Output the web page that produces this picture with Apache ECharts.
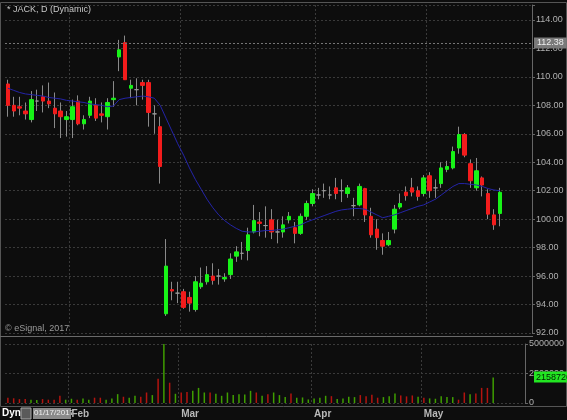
<!DOCTYPE html>
<html>
<head>
<meta charset="utf-8">
<script src="https://cdn.jsdelivr.net/npm/echarts@6/dist/echarts.min.js"></script>
<style>
html, body { margin: 0; padding: 0; background: #0d0d0d; }
#main { width: 567px; height: 420px; }
</style>
</head>
<body>
<div id="main"></div>
<script>
// daily bars JACK, 01/17/2017 .. 05/17/2017
var opens = [109.5, 108.0, 107.9, 107.6, 107.0, 108.3, 108.6, 108.3, 107.8, 107.6,
    107.0, 107.0, 108.3, 106.7, 107.3, 108.0, 107.4, 107.2, 108.4, 111.4,
    112.4, 109.2, 109.1, 109.6, 109.6, 107.4, 106.5, 93.35, 95.05, 94.8,
    94.9, 94.5, 93.65, 95.25, 95.6, 96.0, 96.0, 95.8, 96.1, 97.4,
    97.6, 97.8, 99.1, 99.8, 99.55, 99.95, 99.1, 99.1, 99.95, 99.4,
    99.0, 100.2, 101.1, 101.7, 102.0, 101.7, 102.2, 102.0, 101.8, 100.95,
    101.0, 102.15, 100.2, 99.3, 98.5, 98.2, 99.3, 100.85, 101.9, 102.2,
    102.0, 101.8, 103.05, 102.2, 102.5, 103.5, 103.6, 105.0, 105.95, 103.9,
    102.2, 102.9, 101.8, 100.3, 100.4];
var closes = [108.0, 107.6, 107.8, 107.4, 108.4, 108.3, 108.3, 108.1, 107.4, 107.2,
    107.2, 107.9, 106.7, 107.0, 108.3, 107.1, 107.3, 108.2, 108.5, 111.9,
    109.8, 109.4, 109.1, 109.4, 107.5, 107.4, 103.7, 96.7, 94.95, 94.8,
    93.8, 94.1, 95.6, 95.5, 96.1, 95.7, 96.0, 95.9, 97.2, 97.7,
    97.6, 98.9, 99.9, 99.7, 99.55, 99.1, 99.1, 99.6, 100.2, 99.0,
    100.2, 101.1, 101.8, 101.7, 102.0, 101.7, 101.8, 102.0, 102.2, 100.95,
    102.3, 100.3, 98.9, 98.7, 98.1, 98.5, 100.7, 101.1, 101.65, 101.9,
    101.6, 102.9, 102.0, 102.2, 103.6, 103.7, 104.75, 105.95, 104.5, 102.7,
    103.4, 102.4, 100.35, 99.6, 101.89];
var lows = [107.2, 107.2, 107.3, 107.0, 106.8, 107.6, 107.5, 107.8, 106.4, 105.7,
    105.8, 105.7, 106.6, 106.3, 107.1, 106.9, 106.8, 106.3, 107.9, 110.4,
    109.8, 108.5, 108.0, 108.4, 106.5, 106.0, 102.5, 93.2, 94.3, 94.1,
    93.7, 93.5, 93.5, 95.1, 95.4, 95.4, 95.4, 95.6, 95.8, 97.0,
    97.15, 97.1, 99.0, 98.8, 98.7, 98.6, 98.3, 98.7, 99.7, 98.3,
    98.9, 99.95, 100.9, 101.4, 101.5, 101.4, 101.4, 101.2, 101.5, 100.2,
    100.9, 99.8, 98.7, 97.85, 97.5, 98.1, 99.0, 100.7, 101.3, 101.6,
    101.3, 101.6, 101.5, 101.5, 102.2, 103.3, 103.5, 104.6, 104.35, 102.2,
    102.0, 101.6, 100.0, 99.25, 99.5];
var highs = [109.8, 108.6, 108.6, 108.2, 109.0, 109.1, 109.4, 109.6, 108.9, 108.2,
    107.6, 108.4, 108.7, 107.3, 108.6, 108.5, 108.2, 108.5, 109.7, 112.6,
    112.9, 109.8, 109.9, 109.8, 109.8, 108.0, 107.2, 98.6, 95.6, 95.6,
    95.1, 94.9, 96.0, 96.6, 96.7, 96.9, 96.5, 96.2, 97.6, 98.1,
    98.4, 99.4, 101.0, 100.5, 100.9, 100.7, 99.96, 100.2, 100.5, 99.8,
    100.4, 101.3, 102.1, 102.2, 102.5, 102.3, 102.9, 102.8, 102.4, 101.5,
    102.5, 102.2, 100.8, 100.0, 99.0, 99.1, 101.0, 101.8, 102.3, 102.9,
    102.3, 103.1, 103.3, 102.8, 104.0, 104.1, 105.1, 106.5, 106.05, 104.2,
    104.3, 103.0, 102.1, 100.7, 102.2];
var volumes = [450000, 400000, 330000, 330000, 280000, 250000, 330000, 280000, 280000, 610000,
    280000, 360000, 280000, 390000, 280000, 450000, 450000, 280000, 390000, 750000,
    530000, 450000, 610000, 530000, 890000, 670000, 2060000, 5000000, 1720000, 780000,
    890000, 940000, 1030000, 1280000, 890000, 890000, 780000, 610000, 890000, 670000,
    750000, 720000, 1030000, 890000, 610000, 750000, 890000, 670000, 500000, 800000,
    450000, 470000, 300000, 390000, 450000, 610000, 580000, 330000, 390000, 530000,
    500000, 670000, 580000, 700000, 450000, 500000, 580000, 800000, 640000, 560000,
    640000, 530000, 450000, 390000, 360000, 580000, 500000, 500000, 280000, 890000,
    750000, 800000, 1280000, 1280000, 2158726];
// moving average line as drawn on the chart
var avgLine = [109.2, 109.05, 108.9, 108.8, 108.75, 108.7, 108.65, 108.55, 108.5, 108.45,
    108.35, 108.3, 108.25, 108.2, 108.1, 108.05, 108.0, 107.9, 107.95, 108.4,
    108.5, 108.55, 108.6, 108.65, 108.6, 108.5, 108.0, 107.1, 106.2, 105.3,
    104.5, 103.6, 102.8, 102.1, 101.4, 100.8, 100.3, 99.9, 99.6, 99.35,
    99.15, 99.1, 99.1, 99.15, 99.2, 99.2, 99.25, 99.3, 99.4, 99.5,
    99.6, 99.8, 99.95, 100.1, 100.25, 100.4, 100.55, 100.65, 100.7, 100.75,
    100.75, 100.7, 100.5, 100.3, 100.1, 100.2, 100.3, 100.45, 100.6, 100.75,
    100.9, 101.0, 101.2, 101.4, 101.7, 102.0, 102.3, 102.5, 102.5, 102.45,
    102.4, 102.3, 102.15, 102.05, 102.0];
var priceTicks = [92, 114, 2];
var volTicks = [0, 5000000, 2500000];
var sessionHigh = 112.38;
var holidays = ['2017-02-20', '2017-04-14'];
var monthNames = ['Jan', 'Feb', 'Mar', 'Apr', 'May'];

// trading days
var dates = [];
var d = new Date(2017, 0, 17);
while (dates.length < closes.length) {
    var wd = d.getDay();
    var key = d.getFullYear() + '-' + ('0' + (d.getMonth() + 1)).slice(-2) + '-' + ('0' + d.getDate()).slice(-2);
    if (wd != 0 && wd != 6 && holidays.indexOf(key) < 0) {
        dates.push({m: d.getMonth(), day: d.getDate(), key: key});
    }
    d.setDate(d.getDate() + 1);
}
var cats = [];
var monthStart = {};
for (var i = 0; i < dates.length; i++) {
    cats.push(dates[i].key);
    if (i > 0 && dates[i].m != dates[i - 1].m) monthStart[i] = monthNames[dates[i].m];
}
// empty room on the right
for (var k = 0; k < 5; k++) cats.push('pad' + k);

var UP = '#17f317', DOWN = '#f31c1c', FLAT = '#9a9a9a';
var wicks = [], bodies = [], vols = [];
for (var i = 0; i < closes.length; i++) {
    var o = opens[i], c = closes[i];
    wicks.push([o, c, lows[i], highs[i]]);
    var col = c > o ? UP : (c < o ? DOWN : FLAT);
    bodies.push({
        value: [o, c, Math.min(o, c), Math.max(o, c)],
        itemStyle: {color: col, color0: col, borderColor: col, borderColor0: col}
    });
    vols.push({value: volumes[i], itemStyle: {color: c >= o ? '#3f9e00' : '#b3140f'}});
}

var axisText = {color: '#b0b0b0', fontSize: 9, fontFamily: 'Liberation Sans'};
var gridDash = {color: '#3a3a3a', type: [2, 2], width: 1};

var chart = echarts.init(document.getElementById('main'));
var option = {
    backgroundColor: '#0d0d0d',
    animation: false,
    grid: [
        {left: 5, right: 35, top: 5, bottom: 87},
        {left: 5, right: 35, top: 344, bottom: 17}
    ],
    xAxis: [
        {
            type: 'category', gridIndex: 0, data: cats, boundaryGap: true,
            axisLine: {show: false}, axisTick: {show: false}, axisLabel: {show: false},
            splitLine: {show: true, lineStyle: gridDash, interval: function (idx) { return !!monthStart[idx]; }}
        },
        {
            type: 'category', gridIndex: 1, data: cats, boundaryGap: true,
            axisLine: {show: false}, axisTick: {show: false},
            axisLabel: {
                show: true, interval: function (idx) { return !!monthStart[idx]; },
                formatter: function (v, idx) { return monthStart[idx] || ''; },
                align: 'left',
                color: '#b8b8b8', fontSize: 10, fontWeight: 'bold', fontFamily: 'Liberation Sans', margin: 6
            },
            splitLine: {show: true, lineStyle: gridDash, interval: function (idx) { return !!monthStart[idx]; }}
        }
    ],
    yAxis: [
        {
            type: 'value', gridIndex: 0, position: 'right', min: priceTicks[0], max: 115.05, interval: priceTicks[2],
            axisLine: {show: true, lineStyle: {color: '#666'}},
            axisTick: {show: true, length: 3, lineStyle: {color: '#666'}},
            axisLabel: Object.assign({margin: 4, formatter: function (v) { return v > priceTicks[1] ? '' : v.toFixed(2); }}, axisText),
            splitLine: {show: true, lineStyle: gridDash}
        },
        {
            type: 'value', gridIndex: 1, position: 'right', min: volTicks[0], max: volTicks[1], interval: volTicks[2],
            axisLine: {show: true, lineStyle: {color: '#666'}},
            axisTick: {show: true, length: 3, lineStyle: {color: '#666'}},
            axisLabel: Object.assign({margin: 4, formatter: function (v) { return String(v); }}, axisText),
            splitLine: {show: true, lineStyle: gridDash}
        }
    ],
    series: [
        {
            type: 'candlestick', xAxisIndex: 0, yAxisIndex: 0, data: wicks, barWidth: 1,
            itemStyle: {color: '#8a8a8a', color0: '#8a8a8a', borderColor: '#8a8a8a', borderColor0: '#8a8a8a', borderWidth: 1},
            markLine: {
                silent: true, symbol: 'none',
                data: [
                    {yAxis: sessionHigh, lineStyle: {color: '#777', type: [2, 2], width: 1},
                        label: {show: true, position: 'end', formatter: sessionHigh.toFixed(2), color: '#eee',
                            backgroundColor: '#7a7a7a', fontSize: 9, padding: [1, 3], distance: 2}},
                    {yAxis: closes[closes.length - 1], lineStyle: {opacity: 0},
                        label: {show: true, position: 'end', formatter: closes[closes.length - 1].toFixed(2), color: '#002200',
                            backgroundColor: '#22e622', fontSize: 9, padding: [1, 3], distance: 2}}
                ]
            }
        },
        {
            type: 'candlestick', xAxisIndex: 0, yAxisIndex: 0, data: bodies, barWidth: 4
        },
        {
            type: 'line', xAxisIndex: 0, yAxisIndex: 0, data: avgLine, symbol: 'none',
            lineStyle: {color: '#2424a8', width: 1}
        },
        {
            type: 'bar', xAxisIndex: 1, yAxisIndex: 1, data: vols, barWidth: 1.5
        }
    ],
    graphic: [
        {type: 'rect', shape: {x: 0.5, y: 2.5, width: 566, height: 404}, style: {fill: 'none', stroke: '#555'}, silent: true},
        {type: 'line', shape: {x1: 0, y1: 336.5, x2: 533, y2: 336.5}, style: {stroke: '#6a6a6a'}, silent: true},
        {type: 'text', left: 7, top: 5, style: {text: '* JACK, D (Dynamic)', fill: '#c8c8c8', fontSize: 9, fontFamily: 'Liberation Sans'}},
        {type: 'text', left: 5, top: 324, style: {text: '© eSignal, 2017', fill: '#9a9a9a', fontSize: 9, fontFamily: 'Liberation Sans'}},
        {type: 'text', left: 2, top: 408, style: {text: 'Dyn', fill: '#ffffff', fontSize: 10, fontWeight: 'bold', fontFamily: 'Liberation Sans'}},
        {type: 'rect', shape: {x: 21, y: 408, width: 10, height: 11}, style: {fill: '#5a5a5a', stroke: '#aaa'}},
        {type: 'rect', shape: {x: 33, y: 408, width: 38, height: 11}, style: {fill: '#8a8a8a'}},
        {type: 'text', left: 34, top: 409, style: {text: '01/17/2017', fill: '#eeeeee', fontSize: 8, fontFamily: 'Liberation Sans'}}
    ]
};
chart.setOption(option);

// last volume tag on the volume axis
var lastVol = volumes[volumes.length - 1];
var vy = chart.convertToPixel({yAxisIndex: 1}, lastVol);
chart.setOption({
    graphic: [{
        type: 'text', id: 'voltag', x: 534, y: vy - 6, z: 100,
        style: {text: String(lastVol), fill: '#002200', backgroundColor: '#22e622', fontSize: 9,
            padding: [1, 2], fontFamily: 'Liberation Sans'}
    }]
});
</script>
</body>
</html>
